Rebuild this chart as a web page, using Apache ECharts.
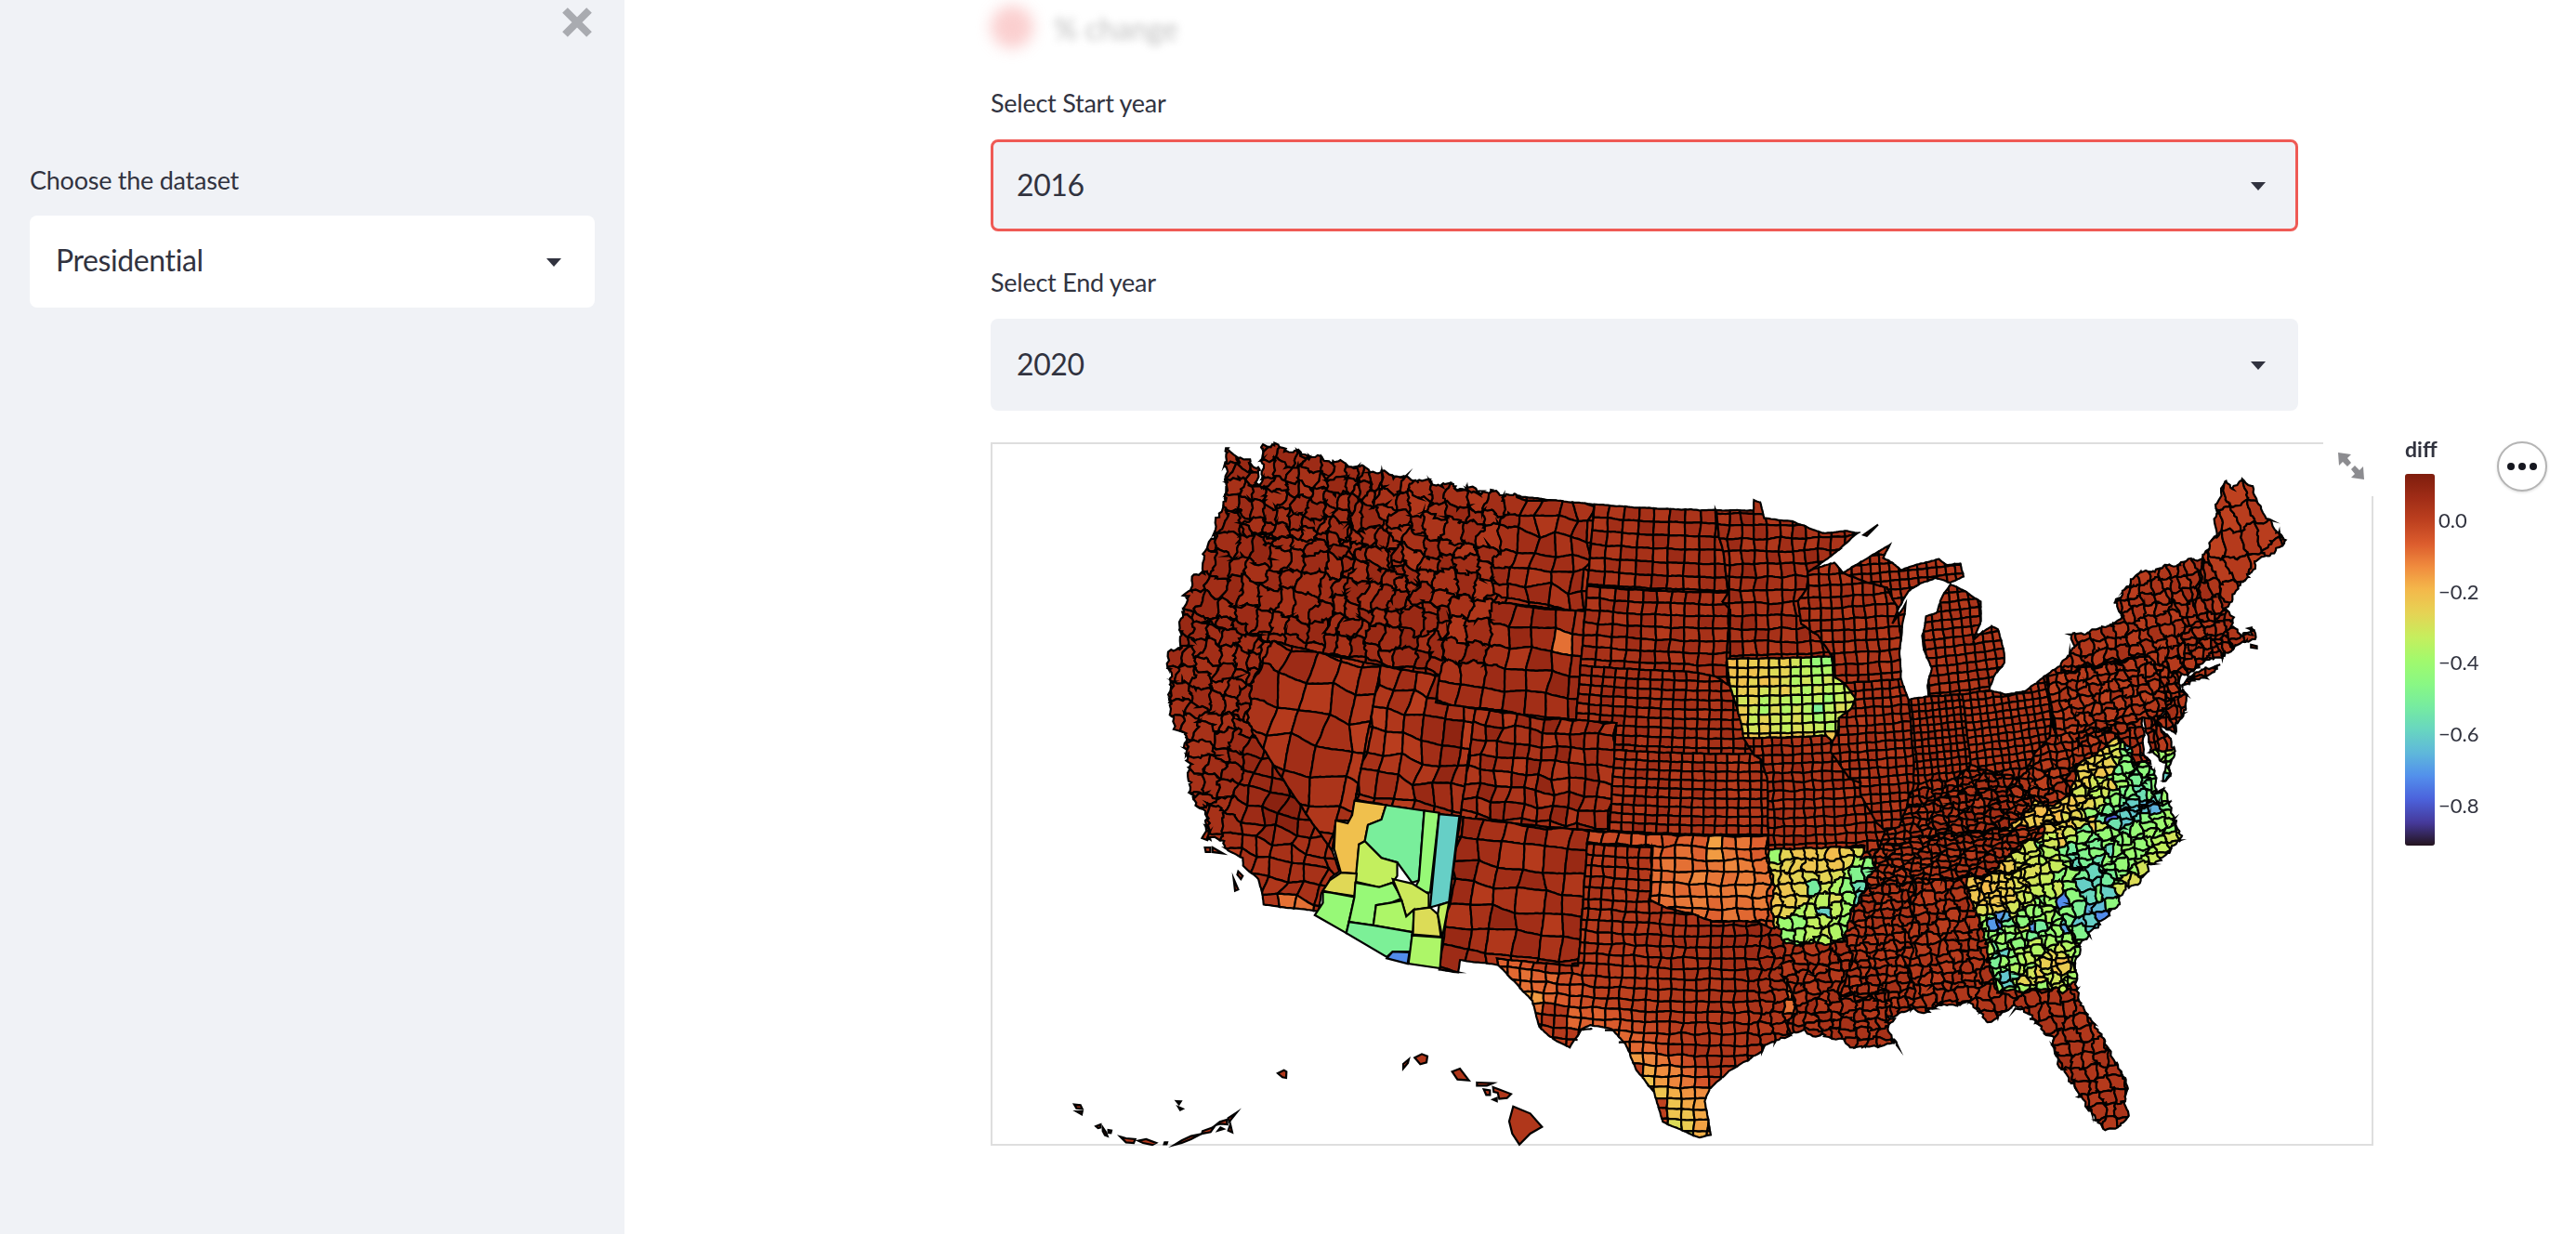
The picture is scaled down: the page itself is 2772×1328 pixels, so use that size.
<!DOCTYPE html>
<html>
<head>
<meta charset="utf-8">
<title>Presidential diff map</title>
<script src="https://cdn.jsdelivr.net/npm/echarts@6/dist/echarts.min.js"></script>
<style>
  html, body { margin: 0; padding: 0; width: 2772px; height: 1328px; overflow: hidden; background: #fff; }
  body { font-family: Lato, "Noto Sans", sans-serif; color: #31333f; }
  .abs { position: absolute; }
  .txt { position: absolute; white-space: nowrap; transform: translateY(-50%); }
  .label { font-size: 27px; letter-spacing: -0.25px; }
  .value { font-size: 32px; letter-spacing: -0.4px; }
  .box { position: absolute; border-radius: 8px; box-sizing: border-box; }
  .caret { position: absolute; width: 0; height: 0; border-left: 8px solid transparent; border-right: 8px solid transparent; border-top: 9px solid #31333f; }
  #chart { position: absolute; left: 0; top: 0; width: 2772px; height: 1328px; }
</style>
</head>
<body>
<div class="abs" style="left:0;top:0;width:672px;height:1328px;background:#f0f2f6"></div>
<svg class="abs" style="left:604px;top:8px" width="34" height="32" viewBox="0 0 34 32">
  <path d="M4 3 L30 29 M30 3 L4 29" stroke="#a9abb0" stroke-width="8" fill="none"/>
</svg>
<div class="txt label" style="left:32px;top:193px">Choose the dataset</div>
<div class="box" style="left:32px;top:232px;width:608px;height:99px;background:#fff"></div>
<div class="txt value" style="left:60px;top:279px">Presidential</div>
<div class="caret" style="left:588px;top:278px"></div>

<div class="abs" style="left:1066px;top:6px;width:46px;height:46px;border-radius:50%;background:#f8b0b0;filter:blur(8px);opacity:.6"></div>
<div class="txt" style="left:1134px;top:30px;font-size:32px;color:#8a8a8a;filter:blur(4px);opacity:.55">% change</div>

<div class="txt label" style="left:1066px;top:110px">Select Start year</div>
<div class="box" style="left:1066px;top:150px;width:1407px;height:99px;background:#f0f2f6;border:3.5px solid #ef5a55"></div>
<div class="txt value" style="left:1094px;top:198px">2016</div>
<div class="caret" style="left:2422px;top:196px"></div>

<div class="txt label" style="left:1066px;top:303px">Select End year</div>
<div class="box" style="left:1066px;top:343px;width:1407px;height:99px;background:#f0f2f6"></div>
<div class="txt value" style="left:1094px;top:391px">2020</div>
<div class="caret" style="left:2422px;top:389px"></div>

<div class="abs" style="left:1066px;top:476px;width:1488px;height:757px;box-sizing:border-box;border:2.5px solid #dedede"></div>
<div class="abs" style="left:2500px;top:470px;width:60px;height:64px;background:#fff"></div>

<div id="chart"></div>

<svg class="abs" style="left:2516px;top:487px" width="28" height="29" viewBox="0 0 28 29">
  <path d="M0 0 L14 2 L10 6 L14 11 L10 15 L5 10 L1 14 Z M28 29 L14 27 L18 23 L14 18 L18 14 L23 19 L27 15 Z" fill="#8c8c90"/>
</svg>
<div class="abs" style="left:2687px;top:475px;width:54px;height:54px;box-sizing:border-box;border-radius:50%;background:#fff;border:2px solid #b4b4b4;box-shadow:0 1px 3px rgba(0,0,0,.15);display:flex;align-items:center;justify-content:center;gap:4px">
  <span style="width:8px;height:8px;border-radius:50%;background:#16171f"></span>
  <span style="width:8px;height:8px;border-radius:50%;background:#16171f"></span>
  <span style="width:8px;height:8px;border-radius:50%;background:#16171f"></span>
</div>

<script>
/* ---- legend ---- */
const DIFF_MIN = -0.91;
const DIFF_MAX = 0.132;
const DIFF_TICKS = [0, -0.2, -0.4, -0.6, -0.8];
// low -> high
const DIFF_COLORS = ['#23141e', '#463a9c', '#4b62dc', '#5390ec', '#5fb8da', '#68d6c0', '#76ec9f', '#8af883',
  '#a2f96c', '#c6ee5d', '#e6d354', '#f4b94b', '#f08c3e', '#dc5c2d', '#bd401f', '#9f2c16', '#7f1d0d'];

/* ---- county values per state, in hundredths, rows north to south, columns west to east ---- */
const WA_DIFF = [[7, 5, 7, 6, 8, 5, 7], [5, 8, 6, 5, 7, 6, 5], [6, 7, 5, 8, 6, 7, 4], [8, 5, 6, 7, 5, 6, 7]];
const OR_DIFF = [[6, 8, 5, 7, 6, 5, 7, 8], [8, 6, 7, 9, 5, 6, 7, 5], [6, 8, 6, 5, 7, 6, 5, 6], [7, 6, 8, 5, 6, 5, 6, 7]];
const CA_DIFF = [
  [8, 7, 6, 7, 6, 5, 6], [9, 7, 6, 5, 6, 6, 7], [7, 6, 5, 7, 5, 6, 5], [6, 5, 6, 5, 6, 7, 7, 6], [5, 6, 7, 6, 5, 7, 8, 6],
  [6, 5, 6, 4, 5, 6, 7, 8, 9], [5, 6, 4, 5, 6, 7, 8, 9, 7], [6, 5, 5, 4, 6, 8, 9, 8, 8], [6, 5, 5, 5, 6, 8, 7, 8, 9, 9],
  [5, 5, 6, 5, 6, 6, 8, 7, 11, 11, 8], [5, 5, 5, 6, 5, 5, 6, 7, 11, 11, 8], [5, 5, 5, 5, 5, 5, 6, 5, 9, 6, 5, 5],
  [5, 5, 5, 6, 5, 4, 5, 5, 4, 5, 5, 5], [5, 5, 5, 5, 5, 5, 1, 5, 4, 5, 5, 5], [5, 5, 5, 5, 5, 5, 5, 5, 5, 3, 5, 5],
  [5, 5, 5, 5, 5, 5, 5, 5, 5, 3, -9, -9], [5, 5, 5, 5, 5, 5, 5, 5, 5, 3, -9, -9]];
const NV_DIFF = [[5, 7, 4, 3, 5], [7, 3, 2, 5, 3], [4, 2, 5, 5, 1], [5, 3, 6, 5, 2], [9, 8, 6, 4, 2]];
const ID_DIFF = [[6, 7, 5, 8, 6, 9, 5, 7], [7, 5, 8, 6, 5, 7, 9, 6], [6, 8, 5, 7, 8, 5, 6, 8], [5, 6, 7, 5, 6, 8, 7, 5]];
const MT_DIFF = [[6, 4, 5, 7, 5, 3, 6, 5, 4, 6], [5, 7, 3, 5, 8, 6, 4, 7, 5, 3], [4, 6, 7, 4, 5, 7, 3, 5, 6, 7]];
const WY_DIFF = [[5, 3, 7, 6, 9, 5, 4], [3, 6, 4, 8, 6, -9, 3], [6, 8, 5, 3, 8, 5, 6], [4, 5, 7, 6, 5, 9, 7], [5, 6, 4, 7, 6, 5, 8]];
const UT_DIFF = [[4, 6, 3, 8, 6], [3, 5, 1, 6, 5], [1, 3, 5, 7, 10], [3, 1, 2, 6, 8], [5, 3, 4, 3, 9]];
const CO_DIFF = [[3, 6, 2, 8, 4, 9, 3, 5, 7], [5, 9, 5, 4, 7, 3, 6, 8, 5], [6, 3, 8, 7, 4, 6, 9, 3, 6], [3, 7, 5, 2, 9, 5, 3, 7, 8]];
const NM_DIFF = [[8, 5, 3, 7, 4, 6], [7, 6, 3, 2, 6, 8], [9, 4, 6, 8, 5, 3], [7, 2, 4, 3, 6, 5], [3, 5, 9, 6, 2, 7]];
const ND_DIFF = [[5, 3, 6, 5, 3, 7, 4, 6, 3], [3, 6, 4, 8, 5, 3, 6, 5, 7], [6, 4, 3, 5, 7, 4, 3, 6, 5]];
const SD_DIFF = [
  [5, 3, 6, 4, 7, 3, 5, 6, 4, 3, 6], [3, 6, 7, 3, 5, 4, 2, 5, 3, 6, 4], [6, 4, 3, 5, 6, 3, 5, 4, 7, 5, 3],
  [4, 5, 6, 7, 4, 2, 6, 3, 5, 3, 6], [5, 3, 4, 6, 3, 8, 4, 6, 3, 5, 4], [6, 5, 3, 4, 7, 5, 3, 5, 6, 4, 3], [3, 4, 6, 5, 3, 6, 5, 3, 4, 6, 5]];
const NE_DIFF = [[6, 4, 7, 3, 5, 6, 4, 3, 6, 5, 4, 3], [3, 6, 4, 5, 7, 3, 5, 6, 3, 4, 2, 5], [5, 3, 6, 7, 4, 5, 3, 4, 6, 3, 5, 4]];
const KS_DIFF = [[3, 5, 2, 4, 6, 3, 4, 2, 5, 3, 1, 3, 2], [5, 2, 4, 6, 3, 5, 2, 6, 3, 4, 2, 1, 3], [2, 4, 7, 3, 5, 2, 4, 3, 5, 2, 3, 2, 4]];
const OK_DIFF = [
  [-3, -2, -3, -5, -6, -4, -7, -6, -16, -8, -10, -7, -6], [-6, -4, -3, -7, -8, -6, -9, -7, -15, -10, -8, -6, -8],
  [-6, -4, -6, -8, -7, -10, -9, -8, -10, -12, -11, -9, -8], [-6, -4, -7, -6, -9, -8, -10, -12, -10, -9, -11, -10, -8],
  [-4, -5, -6, -9, -7, -10, -8, -9, -11, -10, -12, -11, -7], [-4, -5, -7, -6, -8, -9, -10, -11, -8, -10, -9, -11, -6],
  [-4, -5, -6, -4, -7, -5, -8, -9, -7, -10, -8, -7, -4], [-4, -5, -6, -3, -6, -5, -7, -8, -10, -7, -6, -4, -3]];
const TX_DIFF = [
  [3, 3, 3, 3, 3, 3, 2, 3, 1, 2, 3, 2], [3, 3, 3, 3, 3, 3, 3, 1, 2, 4, 2, 3], [3, 3, 3, 3, 3, 3, 2, 2, 3, 1, 4, 2],
  [3, 3, 3, 3, 3, 3, 3, 4, 2, 3, 1, 3, 4, 3, 2, 3, 5, 4, 3, 5],
  [2, 3, 3, 3, 3, 3, 2, 4, 3, 1, 2, 4, 3, 2, 5, 3, 4, 5, 6, 4, 6, 5, 4],
  [3, 3, 3, 3, 3, 3, 4, 2, 3, 2, 4, 1, 3, 4, 3, 6, 4, 5, 3, 6, 7, 8, 5],
  [3, 3, 3, 3, 3, 3, 2, 3, 1, 4, 2, 3, 4, 2, 5, 3, 6, 4, 5, 8, 6, 5, 7],
  [3, 3, 3, 3, 3, 3, 3, 2, 4, 2, 3, 2, 3, 5, 3, 4, 5, 7, 4, 6, 8, 6, 5],
  [3, 3, 3, 3, 3, 3, 0, 2, 1, 3, 2, 4, 5, 3, 6, 5, 4, 5, 6, 7, 5, 7, 6],
  [3, 3, 3, 3, 2, 2, 1, 3, 2, 3, 1, 2, 3, 4, 2, 5, 3, 6, 4, 5, 7, 5, 6],
  [3, 3, 3, 3, 1, 2, 3, 1, 2, 1, 3, 2, 4, 3, 5, 2, 4, 3, 5, 6, 4, 6, 5],
  [-7, -7, -5, 0, 1, 2, 0, 1, 2, 1, 0, 2, 1, 3, 2, 4, 3, 4, 2, 5, 6, 5, 4],
  [-8, -8, -9, -7, -8, -3, -3, 0, 1, 0, 1, 2, 1, 2, 3, 3, 4, 2, 5, 4, 6, 4, 5],
  [-9, -8, -9, -8, -8, -4, -5, -2, 0, 1, 0, 1, 2, 1, 3, 2, 3, 4, 3, 5, 4, 5, 3],
  [-9, -9, -16, -15, -8, -6, -5, -3, -2, -1, 0, 1, 0, 2, 1, 3, 2, 4, 3, 2, 4, 3, 4],
  [0, 0, 0, -9, 2, 2, -8, -6, -7, -5, -2, -1, 0, 1, 2, 1, 3, 2, 4, 2, 3, 4, 3],
  [0, 0, 0, 0, 2, 2, -8, -7, -7, -6, -4, -3, -2, 0, 1, 2, 2, 3, 2, 4, 3, 2, 3],
  [0, 0, 0, 0, 0, 2, 2, -8, -12, -10, -8, -7, -4, -2, 0, 1, 3, 2, 3, 2, 4, 3, 2],
  [0, 0, 0, 0, 0, 0, 0, 0, -12, -12, -10, -8, -8, -3, 2, 3, 4, 2, 3, 1, 3, 2, 2],
  [0, 0, 0, 0, 0, 0, 0, 0, 0, 0, 0, -15, -12, -10, -7, -3, 2, 3, 2, 3, 2, 1, 2],
  [0, 0, 0, 0, 0, 0, 0, 0, 0, 0, 0, 0, -17, -13, -12, -8, -3, 2, 1, 2, 3, 2, 1],
  [0, 0, 0, 0, 0, 0, 0, 0, 0, 0, 0, 0, -22, -15, -12, -10, -5, 1, 2, 1, 2, 2, 2],
  [0, 0, 0, 0, 0, 0, 0, 0, 0, 0, 0, 0, 0, -22, -18, -14, -13, -10, -5, 1, 0, 2, 1],
  [0, 0, 0, 0, 0, 0, 0, 0, 0, 0, 0, 0, 0, 0, -22, -17, -16, -13, -7, 0, 1, 0, 1],
  [0, 0, 0, 0, 0, 0, 0, 0, 0, 0, 0, 0, 0, 0, -22, -22, -17, -12, -10, 0, 0, 0, 0],
  [0, 0, 0, 0, 0, 0, 0, 0, 0, 0, 0, 0, 0, 0, -28, -24, -16, -10, -8, 0, 0, 0, 0],
  [0, 0, 0, 0, 0, 0, 0, 0, 0, 0, 0, 0, 0, 0, 0, -28, -18, -15, -8, 0, 0, 0, 0]];
const MN_DIFF = [[5, 3, 6, 4, 7, 3, 5, 8, 5, 6], [3, 6, 8, 4, 3, 6, 4, 7, 6, 3], [6, 4, 5, 7, 5, 3, 7, 4, 5, 6], [4, 7, 3, 5, 3, 6, 4, 3, 6, 4]];
const IA_DIFF = [
  [-20, -22, -24, -22, -26, -24, -30, -36, -42, -42, -34, -30],
  [-21, -22, -21, -24, -28, -26, -36, -33, -38, -36, -30, -30],
  [-24, -21, -26, -21, -24, -28, -36, -30, -36, -30, -32, -30],
  [-30, -24, -24, -30, -28, -24, -32, -36, -30, -34, -33, -33],
  [-28, -30, -26, -36, -30, -34, -36, -34, -33, -40, -33, -30],
  [-32, -24, -30, -38, -28, -36, -30, -35, -50, -34, -28, -30],
  [-30, -22, -32, -26, -30, -32, -28, -33, -38, -33, -30, -28],
  [-33, -26, -30, -24, -30, -33, -28, -30, -32, -36, -30, -28],
  [-24, -22, -22, -24, -22, -24, -22, -24, -30, -22, -28, -28]];
const MO_DIFF = [[3, 5, 2, 6, 4, 3, 5, 3, 6, 4], [5, 2, 4, 7, 3, 5, 2, 4, 3, 6], [2, 6, 3, 4, 5, 2, 6, 3, 5, 2], [4, 3, 6, 2, 3, 7, 4, 2, 4, 3]];
const AR_DIFF = [
  [-40, -26, -22, -22, -24, -20, -24, -28, -32, -38],
  [-28, -26, -24, -22, -24, -22, -26, -38, -44, -50],
  [-26, -24, -26, -28, -26, -28, -36, -48, -50, -50],
  [-22, -22, -26, -52, -30, -36, -44, -56, -55, -55],
  [-22, -24, -26, -32, -34, -28, -40, -58, -60, -55],
  [-24, -26, -36, -33, -60, -33, -38, -46, -50, -50],
  [-26, -40, -42, -33, -33, -36, -40, -40, -42, -42],
  [-30, -42, -38, -34, -30, -36, -42, -52, -55, -55],
  [-36, -42, -42, -38, -34, -36, -40, -54, -55, -55]];
const LA_DIFF = [[3, 5, 2, 4, 3, 5, 2, 4, 3, 2], [5, 2, 4, 3, 5, 3, 4, 2, 5, 3], [2, 4, 6, 2, 3, 4, 2, 5, 2, 4], [4, 3, 2, 5, 2, 3, 5, 2, 3, 5]];
const MS_DIFF = [[3, 2, 4, 2, 3, 5, 2, 3, 2, 4], [2, 4, 1, 3, 4, 2, 3, 5, 3, 2], [4, 2, 3, 5, 2, 1, 4, 2, 3, 4]];
const AL_DIFF = [[2, 4, 3, 1, 3, 4, 2], [4, 2, 1, 3, 5, 2, 3], [3, 1, 4, 2, 3, 5, 2], [2, 3, 5, 3, 1, 4, 3]];
const TN_DIFF = [[2, 0, 3, 1, 4, 2, 0, 4, 2, 5, 3, 1, 4, 6, 3, 2, 4], [0, 3, 1, 4, 1, 3, 5, 1, 4, 2, 4, 6, 3, 4, 5, 3, 6]];
const KY_DIFF = [[3, 1, 5, 2, 4, 1, 3, 6, 2, 4, 3, 5, 1, 4, 6, 5], [1, 4, 2, 3, 6, 3, 1, 4, 5, 2, 6, 3, 4, 7, 4, 6], [4, 2, 1, 5, 3, 2, 5, 3, 1, 6, 4, 7, 5, 4, 6, 7]];
const IL_DIFF = [[4, 2, 5, 3, 6, 2, 4, 5, 3, 4], [2, 5, 3, 1, 4, 3, 5, 2, 6, 3], [5, 3, 4, 2, 5, 4, 2, 3, 4, 2]];
const WI_DIFF = [[3, 5, 2, 4, 6, 3, 5, 2, 4, 3], [5, 2, 4, 3, 2, 6, 3, 4, 2, 5], [2, 4, 5, 3, 5, 2, 4, 3, 5, 2]];
const MI_DIFF = [[3, 2, 4, 5, 2, 3, 4, 2, 3, 4], [5, 3, 2, 4, 3, 5, 2, 4, 3, 2], [2, 4, 5, 2, 3, 2, 4, 3, 5, 3]];
const IN_DIFF = [[3, 5, 2, 4, 3, 5, 2, 4, 6, 3], [5, 2, 6, 3, 4, 2, 7, 3, 2, 5], [2, 4, 3, 5, 7, 3, 2, 5, 3, 4]];
const OH_DIFF = [[2, 4, 1, 3, 2, 4, 3, 1, 2, 3], [4, 1, 3, 2, 5, 2, 1, 3, 4, 2], [1, 3, 2, 4, 2, 3, 5, 2, 3, 4]];
const WV_DIFF = [[2, 0, 3, 1, 4, 2, 0, 3, 1], [0, 3, 1, 2, 0, 4, 2, 1, 3], [3, 1, 0, 4, 2, 1, 3, 0, 2]];
const PA_DIFF = [[1, 3, 0, 2, 4, 1, 2, 0, 3, 2, 4], [3, 0, 2, 1, 3, 0, 4, 2, 1, 3, 1], [0, 2, 4, 1, 0, 3, 1, 3, 2, 0, 2]];
const NY_DIFF = [[3, 1, 4, 2, 3, 5, 2, 4, 1, 3], [1, 4, 2, 3, 5, 2, 4, 1, 3, 4], [4, 2, 3, 1, 2, 4, 1, 3, 5, 2]];
const NJ_DIFF = [[2, 4, 1], [4, 1, 3], [1, 3, 5]];
const MD_DIFF = [
  [3, 5, 2, 4, 6, 3, 5, 2, 4, 6, 3], [5, 2, 4, 6, 3, 5, 2, 4, 6, 3, 5], [3, 5, 2, 4, 6, 3, 5, 2, 4, 6, 3], [5, 2, 4, 6, 3, 5, 2, 4, 6, 3, 5],
  [3, 5, 2, 4, 6, 3, 5, 2, -36, -40, -32, -34], [5, 2, 4, 6, 3, 5, 2, 4, -40, -35, -42, -38], [5, 2, 4, 6, 3, 5, 2, 4, -40, -42, -36, -44]];
const ME_DIFF = [[1, 2, 0, 2, 1], [2, 0, 1, 3, 2], [0, 2, 3, 1, 3]];
const NEW_ENGLAND_DIFF = [[3, 5, 2, 6, 4], [5, 2, 4, 3, 6], [2, 6, 3, 5, 3]];
const VA_DIFF = [
  [-25, -25, -25, -25, -25, -25, -25, -25, -25, -25, -25, -25, -25, -25, -25, -20, -42, -42, -42, -42, -42],
  [-25, -25, -25, -25, -25, -25, -25, -25, -25, -25, -25, -25, -25, -25, -30, -40, -62, -78, -42, -42, -42],
  [-25, -25, -25, -25, -25, -25, -25, -25, -25, -25, -25, -25, -25, -30, -28, -45, -50, -78, -55, -42, -42],
  [-25, -25, -25, -25, -25, -25, -25, -25, -25, -25, -25, -25, -26, -25, -33, -44, -45, -48, -42, -42, -40],
  [-25, -25, -25, -25, -25, -25, -25, -25, -25, -25, -25, -25, -22, -24, -50, -44, -42, -42, -46, -40, -40],
  [-25, -25, -25, -25, -25, -25, -25, -25, -25, -25, -25, -30, -32, -40, -42, -44, -50, -44, -48, -42, -42],
  [-25, -25, -25, -25, -25, -25, -25, -25, -25, -30, -32, -35, -28, -24, -38, -44, -50, -50, -44, -60, -44],
  [-25, -25, -25, -25, -25, -25, -24, -24, -22, -24, -28, -34, -30, -42, -48, -46, -56, -50, -44, -44, -40],
  [-25, -25, -25, -20, -20, -22, -22, -24, -22, -28, -26, -30, -44, -42, -52, -50, -56, -46, -44, -42, -42],
  [-20, -22, -20, -24, -22, -24, -20, -28, -26, -30, -42, -40, -50, -46, -60, -60, -65, -60, -55, -40, -36],
  [-20, -22, -24, -22, -20, -24, -26, -22, -28, -30, -22, -55, -42, -78, -50, -62, -62, -66, -48, -42, -38]];
const NC_DIFF = [
  [-25, -25, -25, -25, -24, -24, -26, -22, -28, -24, -55, -78, -60, -62, -62, -66, -48, -42],
  [-30, -30, -30, -30, -30, -32, -25, -30, -50, -22, -30, -55, -62, -58, -45, -42, -38, -35],
  [-30, -30, -30, -30, -45, -30, -22, -35, -42, -48, -42, -42, -50, -42, -42, -40, -38, -30],
  [-28, -28, -30, -30, -40, -35, -48, -52, -42, -50, -42, -45, -42, -44, -38, -40, -42, -30],
  [-20, -24, -28, -30, -35, -30, -42, -55, -48, -44, -58, -42, -40, -42, -38, -35, -30, -30],
  [-20, -20, -26, -22, -30, -32, -42, -58, -50, -55, -42, -44, -40, -42, -36, -33, -30, -30],
  [-20, -20, -20, -22, -28, -28, -45, -55, -62, -50, -45, -42, -42, -36, -32, -30, -30, -30],
  [-20, -20, -20, -22, -20, -30, -40, -46, -60, -62, -50, -44, -40, -30, -28, -30, -30, -30],
  [-20, -20, -20, -22, -30, -40, -44, -55, -66, -65, -42, -28, -28, -30, -30, -30, -30, -30]];
const SC_DIFF = [
  [-26, -28, -30, -32, -38, -40, -42, -44, -40],
  [-26, -30, -32, -44, -40, -50, -58, -44, -42],
  [-30, -32, -34, -30, -42, -60, -58, -52, -42],
  [-34, -44, -38, -72, -44, -58, -45, -60, -30],
  [-38, -44, -45, -44, -50, -66, -64, -44, -42],
  [-44, -44, -45, -48, -62, -60, -72, -50, -42],
  [-44, -44, -46, -42, -48, -62, -46, -44, -42],
  [-44, -42, -46, -40, -42, -44, -40, -44, -42]];
const GA_DIFF = [
  [-22, -20, -20, -24, -24, -26, -28, -30, -30, -30, -30, -30, -30, -30],
  [-22, -22, -20, -22, -24, -26, -28, -30, -30, -30, -30, -30, -30, -30],
  [-22, -20, -22, -22, -24, -24, -30, -26, -32, -32, -32, -32, -32, -32],
  [-26, -22, -24, -22, -22, -24, -30, -32, -28, -30, -30, -30, -30, -30],
  [-30, -28, -26, -24, -24, -30, -30, -32, -42, -40, -40, -40, -40, -40],
  [-30, -36, -45, -70, -66, -30, -42, -40, -42, -36, -36, -36, -36, -36],
  [-32, -40, -70, -78, -50, -32, -44, -38, -40, -36, -42, -42, -42, -42],
  [-32, -42, -42, -50, -40, -36, -30, -70, -52, -46, -42, -60, -60, -60],
  [-30, -34, -40, -38, -44, -40, -42, -50, -44, -42, -40, -68, -44, -44],
  [-28, -36, -52, -42, -36, -44, -40, -32, -40, -38, -42, -40, -46, -46],
  [-32, -32, -54, -60, -44, -36, -34, -36, -42, -34, -30, -36, -22, -42],
  [-42, -42, -50, -40, -42, -36, -32, -32, -28, -26, -28, -36, -40, -42],
  [-38, -38, -44, -44, -36, -33, -40, -30, -24, -22, -20, -26, -38, -44],
  [-40, -40, -50, -62, -55, -30, -30, -24, -30, -22, -24, -30, -38, -44],
  [-38, -38, -40, -60, -34, -26, -28, -26, -32, -30, -32, -38, -38, -38],
  [-42, -42, -42, -42, -42, -38, -34, -40, -30, -30, -36, -36, -36, -36],
  [-42, -42, -42, -42, -40, -40, -40, -24, -26, -33, -36, -36, -36, -36]];
const FL_DIFF = [[2, 4, 3, 1, 3, 2, 4, 3, 2, 4, 5, 3], [3, 1, 4, 2, 3, 5, 2, 4, 3, 2, 3, 4], [4, 2, 3, 1, 4, 3, 2, 3, 4, 3, 2, 3]];

// Arizona is drawn county by county
const AZ_COUNTIES = ['Mohave', 'Coconino', 'Navajo', 'Apache', 'Yavapai', 'La Paz', 'Yuma', 'Maricopa', 'Gila', 'Pinal', 'Graham', 'Greenlee', 'Pima', 'Santa Cruz', 'Cochise'];
const AZ_DIFF = [-21, -51, -42, -60, -33, -27, -42, -42, -31, -37, -28, -33, -50, -72, -37];
const INSET_DIFF = 3;

/* ---- state outlines, lon/lat ---- */
const RINGS = {
  WA: [[[-124.73,48.38],[-123.9,48.17],[-123.1,48.15],[-122.75,48.1],[-122.6,47.6],[-122.45,47.4],[-122.3,47.6],[-122.4,48.2],[-122.55,48.5],[-122.76,49],[-117.03,49],[-117.04,46.42],[-116.92,45.99],[-118.98,46],[-119.3,45.93],[-121.2,45.67],[-122.3,45.55],[-122.8,45.9],[-123.2,46.15],[-124,46.27],[-124.1,46.9],[-124.4,47.6]]],
  OR: [[[-124,46.27],[-123.2,46.15],[-122.8,45.9],[-122.3,45.55],[-121.2,45.67],[-119.3,45.93],[-118.98,46],[-116.92,45.99],[-116.47,45.6],[-116.85,44.95],[-117.22,44.4],[-117.03,43.83],[-117.03,42],[-124.21,42],[-124.4,42.8],[-124.55,42.84],[-124.15,43.7],[-124.05,45],[-123.95,45.9]]],
  CA: [[[-124.21,42],[-120,42],[-120,39],[-114.63,35],[-114.14,34.3],[-114.45,34],[-114.72,33.4],[-114.72,32.72],[-117.12,32.53],[-117.25,32.85],[-117.6,33.4],[-118.4,33.75],[-118.5,34.03],[-119.2,34.15],[-119.6,34.42],[-120.5,34.45],[-120.65,35.15],[-121.3,35.7],[-121.9,36.3],[-121.95,36.6],[-121.8,36.85],[-122.05,36.95],[-122.5,37.5],[-122.5,37.8],[-123,38],[-123.7,38.9],[-123.85,39.8],[-124.35,40.3],[-124.4,40.45],[-124.1,41],[-124.2,41.75]]],
  NV: [[[-120,42],[-114.04,42],[-114.04,36.2],[-114.74,36.1],[-114.63,35],[-120,39]]],
  ID: [[[-117.03,49],[-116.05,49],[-116.05,48],[-115.7,47.45],[-115,47],[-114.6,46.65],[-114.35,46.65],[-114.5,45.55],[-113.95,45.7],[-113.45,44.95],[-113,44.45],[-112.3,44.55],[-111.5,44.55],[-111.05,44.48],[-111.05,42],[-117.03,42],[-117.03,43.83],[-117.22,44.4],[-116.85,44.95],[-116.47,45.6],[-116.92,45.99],[-117.04,46.42]]],
  MT: [[[-116.05,49],[-104.05,49],[-104.05,45],[-111.05,45],[-111.05,44.48],[-111.5,44.55],[-112.3,44.55],[-113,44.45],[-113.45,44.95],[-113.95,45.7],[-114.5,45.55],[-114.35,46.65],[-114.6,46.65],[-115,47],[-115.7,47.45],[-116.05,48]]],
  WY: [[[-111.05,45],[-104.05,45],[-104.05,41],[-111.05,41]]],
  UT: [[[-114.04,42],[-111.05,42],[-111.05,41],[-109.05,41],[-109.05,37],[-114.04,37]]],
  CO: [[[-109.05,41],[-102.05,41],[-102.05,37],[-109.05,37]]],
  NM: [[[-109.05,37],[-103,37],[-103.04,36.5],[-103.04,32],[-106.62,32],[-106.53,31.78],[-108.21,31.78],[-108.21,31.33],[-109.05,31.33]]],
  ND: [[[-104.05,49],[-97.23,49],[-97.1,48],[-96.85,47.5],[-96.55,45.94],[-104.05,45.94]]],
  SD: [[[-104.05,45.94],[-96.55,45.94],[-96.85,45.6],[-96.45,45.3],[-96.45,43.5],[-96.6,43.5],[-96.45,42.5],[-97.2,42.85],[-98.5,43],[-104.05,43]]],
  NE: [[[-104.05,43],[-98.5,43],[-97.2,42.85],[-96.45,42.5],[-96.1,41.7],[-95.85,41],[-95.31,40],[-102.05,40],[-102.05,41],[-104.05,41]]],
  KS: [[[-102.05,40],[-95.31,40],[-94.9,39.8],[-94.61,39.1],[-94.62,37],[-102.05,37]]],
  OK: [[[-103,37],[-94.62,37],[-94.43,35.4],[-94.48,33.64],[-95.5,33.88],[-96.6,33.85],[-97.2,33.85],[-98,34.1],[-99.2,34.3],[-100,34.56],[-100,36.5],[-103.04,36.5]]],
  TX: [[[-103.04,36.5],[-100,36.5],[-100,34.56],[-99.2,34.3],[-98,34.1],[-97.2,33.85],[-96.6,33.85],[-95.5,33.88],[-94.48,33.64],[-94.04,33.55],[-94.04,33],[-94.04,31.99],[-93.55,31.2],[-93.7,30.5],[-93.85,29.7],[-94.7,29.4],[-95.2,29],[-96.4,28.35],[-97.2,27.7],[-97.4,27.2],[-97.15,25.96],[-97.6,25.85],[-98.4,26.15],[-99.1,26.4],[-99.5,27.5],[-100.3,28.3],[-100.8,29.25],[-101.4,29.77],[-102.35,29.87],[-102.7,29.7],[-103.15,28.98],[-104,29.3],[-104.5,29.65],[-104.9,30.6],[-106,31.4],[-106.53,31.78],[-106.62,32],[-103.04,32]]],
  MN: [[[-97.23,49],[-95.15,49],[-95.15,49.38],[-94.8,49.3],[-94.6,48.7],[-93,48.55],[-91.4,48.07],[-90,48.1],[-89.5,48],[-90.8,47.3],[-92.05,46.75],[-92.3,46.65],[-92.3,46.1],[-92.85,45.6],[-92.75,44.75],[-91.9,44.3],[-91.2,43.5],[-96.45,43.5],[-96.45,45.3],[-96.85,45.6],[-96.55,45.94],[-96.85,47.5],[-97.1,48]]],
  IA: [[[-96.6,43.5],[-91.2,43.5],[-91.1,42.7],[-90.65,42.5],[-90.15,41.9],[-90.35,41.55],[-91.05,41.2],[-91.1,40.7],[-91.42,40.38],[-91.7,40.6],[-95.77,40.58],[-95.85,41],[-96.1,41.7],[-96.45,42.5]]],
  MO: [[[-95.77,40.58],[-91.7,40.6],[-91.42,40.38],[-91.5,40],[-90.7,39],[-90.15,38.8],[-90.2,38.4],[-89.5,37.3],[-89.15,37],[-89.4,36.5],[-89.7,36],[-90.37,36],[-90.15,36.5],[-94.62,36.5],[-94.62,37],[-94.61,39.1],[-94.9,39.8],[-95.31,40]]],
  AR: [[[-94.62,36.5],[-90.15,36.5],[-90.37,36],[-89.7,36],[-90.1,35],[-90.6,34.6],[-91.1,33.9],[-91.2,33],[-94.04,33],[-94.04,33.55],[-94.48,33.64],[-94.43,35.4]]],
  LA: [[[-94.04,33],[-91.2,33],[-91,32.4],[-91.6,31],[-89.75,31],[-89.6,30.2],[-89.4,30.05],[-89.6,29.6],[-89.15,29.05],[-89.45,29.2],[-90.1,29.15],[-90.9,29.05],[-91.8,29.5],[-92.3,29.55],[-93.2,29.75],[-93.85,29.7],[-93.7,30.5],[-93.55,31.2],[-94.04,31.99]]],
  MS: [[[-90.1,35],[-88.2,35],[-88.1,34.9],[-88.47,31.9],[-88.4,30.35],[-89.6,30.2],[-89.75,31],[-91.6,31],[-91,32.4],[-91.2,33],[-91.1,33.9],[-90.6,34.6]]],
  AL: [[[-88.2,35],[-85.6,35],[-85.18,32.87],[-85,32.3],[-85,31],[-87.6,31],[-87.45,30.4],[-88,30.25],[-88.4,30.35],[-88.47,31.9],[-88.1,34.9]]],
  TN: [[[-89.4,36.5],[-88.05,36.5],[-88.07,36.68],[-83.68,36.6],[-81.68,36.59],[-82,36.1],[-82.6,36.03],[-83.1,35.75],[-84,35.4],[-84.3,35],[-85.6,35],[-88.2,35],[-90.1,35],[-89.7,36]]],
  KY: [[[-89.4,36.5],[-88.05,36.5],[-88.07,36.68],[-83.68,36.6],[-83.1,36.85],[-82.3,37.3],[-81.97,37.54],[-82.6,38.15],[-82.6,38.4],[-83.6,38.65],[-84.8,39.1],[-85.4,38.73],[-85.8,38.27],[-86.5,37.95],[-87.5,37.9],[-88.05,37.8],[-88.5,37.1],[-89.15,37]]],
  IL: [[[-90.65,42.5],[-87.8,42.5],[-87.5,41.7],[-87.53,39.35],[-87.6,38.7],[-88.05,37.8],[-88.5,37.1],[-89.15,37],[-89.5,37.3],[-90.2,38.4],[-90.15,38.8],[-90.7,39],[-91.5,40],[-91.42,40.38],[-91.1,40.7],[-91.05,41.2],[-90.35,41.55],[-90.15,41.9]]],
  WI: [[[-92.05,46.75],[-90.8,46.95],[-90.4,46.55],[-89.1,46.13],[-88.1,45.9],[-87.8,45.35],[-87.6,45.1],[-88,44.55],[-87.2,45.25],[-87.5,44.4],[-87.75,43.5],[-87.8,42.5],[-90.65,42.5],[-91.1,42.7],[-91.2,43.5],[-91.9,44.3],[-92.75,44.75],[-92.85,45.6],[-92.3,46.1],[-92.3,46.65]]],
  MI: [
    [[-90.4,46.55],[-89.1,46.13],[-88.1,45.9],[-87.8,45.35],[-87.6,45.1],[-87,45.7],[-86.3,45.95],[-85.5,46.08],[-84.75,45.85],[-84,46],[-84.1,46.5],[-84.8,46.5],[-85.2,46.75],[-86.2,46.67],[-87.3,46.5],[-87.9,46.9],[-88.2,47],[-87.8,47.45],[-88.6,47.2],[-89.6,46.85]],
    [[-86.5,41.76],[-84.8,41.7],[-83.45,41.73],[-83.15,42.2],[-82.5,42.65],[-82.45,43],[-82.6,43.9],[-82.9,44.05],[-83.4,43.9],[-83.9,43.65],[-83.4,44.3],[-83.3,45],[-84.1,45.5],[-84.75,45.78],[-85.1,45.5],[-85.4,45.2],[-85.6,44.8],[-86.2,44.7],[-86.5,44],[-86.5,43.5],[-86.2,42.8],[-86.5,42.1]]],
  IN: [[[-87.5,41.7],[-87.2,41.75],[-86.5,41.76],[-84.8,41.7],[-84.8,39.1],[-85.4,38.73],[-85.8,38.27],[-86.5,37.95],[-87.5,37.9],[-88.05,37.8],[-87.6,38.7],[-87.53,39.35]]],
  OH: [[[-84.8,41.7],[-83.45,41.73],[-82.7,41.5],[-81.7,41.5],[-80.52,41.98],[-80.52,40.64],[-80.85,39.7],[-81.7,39.2],[-82.2,38.6],[-82.6,38.4],[-83.6,38.65],[-84.8,39.1]]],
  WV: [[[-80.52,40.64],[-80.52,39.72],[-79.48,39.72],[-79.48,39.2],[-78.75,39.6],[-78.2,39.68],[-77.72,39.32],[-78.35,39],[-78.87,38.76],[-79.65,38.55],[-80.3,37.55],[-81.2,37.25],[-81.68,37.2],[-81.97,37.54],[-82.6,38.15],[-82.6,38.4],[-82.2,38.6],[-81.7,39.2],[-80.85,39.7]]],
  VA: [
    [[-83.68,36.6],[-81.68,36.59],[-80.3,36.55],[-75.9,36.55],[-76,37],[-76.3,37],[-76.3,37.95],[-77,38.3],[-77.05,38.8],[-77.5,39.1],[-77.72,39.32],[-78.35,39],[-78.87,38.76],[-79.65,38.55],[-80.3,37.55],[-81.2,37.25],[-81.68,37.2],[-81.97,37.54],[-82.3,37.3],[-83.1,36.85]],
    [[-75.95,37.15],[-75.65,37.95],[-75.25,38.03],[-75.6,37.5]]],
  NC: [[[-84.3,35],[-84,35.4],[-83.1,35.75],[-82.6,36.03],[-82,36.1],[-81.68,36.59],[-80.3,36.55],[-75.9,36.55],[-75.55,35.25],[-76.5,34.65],[-77.3,34.5],[-77.95,33.87],[-78.55,33.85],[-79.67,34.8],[-80.8,34.82],[-80.8,35.1],[-81.05,35.15],[-82.3,35.2],[-83.1,35]]],
  SC: [[[-83.1,35],[-82.3,35.2],[-81.05,35.15],[-80.8,35.1],[-80.8,34.82],[-79.67,34.8],[-78.55,33.85],[-79.1,33.2],[-79.9,32.7],[-80.6,32.3],[-80.87,32.03],[-81.15,32.2],[-81.5,33],[-82,33.5],[-82.6,34],[-83.35,34.7]]],
  GA: [[[-85.6,35],[-84.3,35],[-83.1,35],[-83.35,34.7],[-82.6,34],[-82,33.5],[-81.5,33],[-81.15,32.2],[-80.87,32.03],[-81.25,31.5],[-81.45,30.72],[-82.05,30.36],[-82.2,30.57],[-84.86,30.7],[-85,31],[-85,32.3],[-85.18,32.87]]],
  FL: [[[-87.6,31],[-85,31],[-84.86,30.7],[-82.2,30.57],[-82.05,30.36],[-81.45,30.72],[-81.25,29.8],[-80.55,28.45],[-80.05,26.9],[-80.12,25.8],[-80.4,25.2],[-81.1,25.12],[-81.75,25.95],[-82.2,26.9],[-82.75,27.8],[-82.65,28.7],[-83.2,29.2],[-83.9,30.05],[-84.35,30.05],[-85.2,29.7],[-85.35,29.7],[-86.2,30.45],[-87.45,30.4]]],
  PA: [[[-80.52,41.98],[-79.76,42.27],[-79.76,42],[-75.35,42],[-74.7,41.36],[-75.13,40.97],[-75.2,40.65],[-74.72,40.15],[-75.4,39.8],[-75.79,39.72],[-79.48,39.72],[-80.52,39.72],[-80.52,40.64]]],
  NY: [
    [[-79.76,42.27],[-78.9,42.85],[-79.05,43.27],[-77.5,43.27],[-76.2,43.55],[-76.3,44.15],[-75,44.98],[-73.35,45.01],[-73.4,43.6],[-73.25,42.75],[-73.5,42.05],[-73.65,41],[-73.9,41],[-74.7,41.36],[-75.35,42],[-79.76,42]],
    [[-74,40.6],[-72.75,40.75],[-71.9,41.08],[-72.6,41],[-73.75,40.85]]],
  NJ: [[[-74.7,41.36],[-73.9,41],[-74.2,40.5],[-74,40.4],[-74.1,39.75],[-74.9,38.95],[-75.5,39.5],[-74.72,40.15],[-75.2,40.65],[-75.13,40.97]]],
  MD: [
    [[-79.48,39.72],[-76.2,39.72],[-76.4,39.2],[-76.5,38.4],[-76.3,38.05],[-77,38.3],[-77.05,38.8],[-77.5,39.1],[-77.72,39.32],[-78.2,39.68],[-78.75,39.6],[-79.48,39.2]],
    [[-76.1,39.72],[-75.79,39.72],[-75.7,38.46],[-75.05,38.45],[-75.25,38.03],[-75.65,37.95],[-76.2,38.5],[-76.2,39.3]]],
  DE: [[[-75.79,39.72],[-75.4,39.8],[-75.55,39.45],[-75.1,38.8],[-75.05,38.45],[-75.7,38.46]]],
  CT: [[[-73.65,41],[-73.5,42.05],[-71.8,42.02],[-71.85,41.32],[-72.9,41.25]]],
  RI: [[[-71.8,42.02],[-71.38,42.02],[-71.15,41.5],[-71.85,41.32]]],
  MA: [[[-73.5,42.05],[-73.25,42.75],[-71.3,42.7],[-70.85,42.87],[-70.65,42.65],[-71,42.3],[-70.6,41.95],[-70.55,41.8],[-70.05,41.78],[-70.2,42.07],[-69.95,41.9],[-70,41.65],[-70.65,41.55],[-71.15,41.5],[-71.38,42.02],[-71.8,42.02]]],
  VT: [[[-73.35,45.01],[-71.5,45.01],[-71.6,44.5],[-72.05,44.1],[-72.45,43.1],[-72.46,42.73],[-73.25,42.75],[-73.4,43.6]]],
  NH: [[[-71.5,45.01],[-71.08,45.3],[-70.98,43.4],[-70.7,43.07],[-70.85,42.87],[-71.3,42.7],[-72.46,42.73],[-72.45,43.1],[-72.05,44.1],[-71.6,44.5]]],
  ME: [[[-71.08,45.3],[-70.4,45.8],[-70.25,46.2],[-70,46.7],[-69.23,47.46],[-68.9,47.18],[-68.3,47.36],[-67.8,47.07],[-67.78,45.9],[-67.45,45.6],[-67.45,45.15],[-66.97,44.82],[-68,44.4],[-68.8,44.4],[-69.1,44],[-70.2,43.6],[-70.7,43.07],[-70.98,43.4]]]
};

// state, county cell size in degrees (lon, lat), irregularity of the county lines, values
const STATE_TABLE = [
  ['WA', 0.75, 0.55, 0.5, WA_DIFF], ['OR', 0.95, 0.8, 0.5, OR_DIFF], ['CA', 0.8, 0.6, 0.55, CA_DIFF], ['NV', 1.3, 1.1, 0.45, NV_DIFF],
  ['ID', 0.8, 0.7, 0.6, ID_DIFF], ['MT', 1, 0.65, 0.55, MT_DIFF], ['WY', 1.1, 0.8, 0.25, WY_DIFF], ['UT', 0.9, 0.8, 0.4, UT_DIFF],
  ['CO', 0.7, 0.55, 0.4, CO_DIFF], ['NM', 1.05, 0.8, 0.35, NM_DIFF], ['ND', 0.85, 0.5, 0.1, ND_DIFF], ['SD', 0.75, 0.45, 0.15, SD_DIFF],
  ['NE', 0.6, 0.35, 0.06, NE_DIFF], ['KS', 0.55, 0.33, 0.04, KS_DIFF], ['OK', 0.7, 0.45, 0.3, OK_DIFF], ['TX', 0.55, 0.4, 0.22, TX_DIFF],
  ['MN', 0.7, 0.48, 0.25, MN_DIFF], ['IA', 0.54, 0.345, 0.03, IA_DIFF], ['MO', 0.48, 0.33, 0.22, MO_DIFF], ['AR', 0.55, 0.42, 0.45, AR_DIFF],
  ['LA', 0.5, 0.36, 0.5, LA_DIFF], ['MS', 0.42, 0.3, 0.2, MS_DIFF], ['AL', 0.45, 0.38, 0.35, AL_DIFF], ['TN', 0.42, 0.2, 0.45, TN_DIFF],
  ['KY', 0.38, 0.22, 0.6, KY_DIFF], ['IL', 0.45, 0.32, 0.15, IL_DIFF], ['WI', 0.58, 0.42, 0.15, WI_DIFF], ['MI', 0.5, 0.33, 0.08, MI_DIFF],
  ['IN', 0.34, 0.26, 0.08, IN_DIFF], ['OH', 0.38, 0.27, 0.12, OH_DIFF], ['WV', 0.4, 0.3, 0.6, WV_DIFF], ['PA', 0.5, 0.33, 0.4, PA_DIFF],
  ['NY', 0.6, 0.42, 0.4, NY_DIFF], ['NJ', 0.3, 0.3, 0.4, NJ_DIFF], ['MD', 0.4, 0.3, 0.4, MD_DIFF], ['DE', 0.35, 0.45, 0.1, NJ_DIFF],
  ['CT', 0.5, 0.3, 0.2, NEW_ENGLAND_DIFF], ['RI', 0.3, 0.3, 0.2, NEW_ENGLAND_DIFF], ['MA', 0.6, 0.35, 0.3, NEW_ENGLAND_DIFF],
  ['VT', 0.5, 0.5, 0.3, NEW_ENGLAND_DIFF], ['NH', 0.5, 0.6, 0.3, NEW_ENGLAND_DIFF], ['ME', 0.95, 0.9, 0.4, ME_DIFF],
  ['VA', 0.4, 0.27, 0.55, VA_DIFF], ['NC', 0.5, 0.3, 0.55, NC_DIFF], ['SC', 0.55, 0.42, 0.55, SC_DIFF], ['GA', 0.36, 0.28, 0.5, GA_DIFF], ['FL', 0.5, 0.5, 0.3, FL_DIFF]
];

/* ---- traced shapes: Arizona, Hawaii, Alaska and small islands (crop pixels) ---- */
const AZ_SHAPES = [
  [[820,808],[890,818],[880,850],[850,862],[843,898],[830,905],[825,970],[790,968],[775,915],[778,852],[805,858],[815,840]],
  [[890,818],[975,830],[963,985],[948,990],[915,945],[880,935],[843,898],[850,862],[880,850]],
  [[975,830],[1008,835],[988,1012],[950,1010],[963,985]],
  [[1008,838],[1053,842],[1030,1033],[988,1045]],
  [[830,905],[843,898],[880,935],[915,945],[915,975],[905,990],[875,1000],[822,988]],
  [[790,968],[825,970],[820,1020],[768,1012],[750,1008],[765,985]],
  [[750,1010],[768,1012],[820,1022],[802,1102],[732,1062],[750,1035]],
  [[822,990],[875,1000],[905,990],[925,1025],[900,1035],[868,1040],[862,1085],[808,1077],[820,1022]],
  [[905,982],[948,992],[985,1015],[985,1045],[952,1050],[935,1065],[925,1030]],
  [[868,1040],[900,1035],[925,1030],[935,1065],[952,1050],[950,1100],[862,1085]],
  [[952,1050],[988,1045],[1005,1060],[1012,1110],[950,1105]],
  [[1005,1060],[1008,1040],[1030,1033],[1015,1112]],
  [[808,1077],[862,1085],[948,1100],[945,1143],[905,1143],[892,1155],[802,1102]],
  [[905,1143],[942,1145],[938,1170],[892,1158]],
  [[948,1107],[1015,1112],[1010,1180],[940,1170]]
];
const HAWAII_SHAPES = [
  [[415,212],[470,235],[508,278],[470,300],[435,335],[412,300],[402,260]],
  [[350,150],[372,158],[408,172],[395,185],[370,188],[365,168],[352,165]],
  [[298,135],[350,137],[330,145],[298,145]], [[320,157],[340,160],[340,175],[328,175]],
  [[350,190],[362,185],[362,195]], [[218,100],[243,90],[272,128],[235,125]],
  [[97,55],[120,43],[138,50],[135,70],[115,76]], [[60,75],[78,60],[75,72],[60,90]]
];
const ALEUTIAN_SHAPES = [
  [[572,232],[545,250],[548,262]], [[540,255],[518,262],[505,272],[520,268],[542,270]],
  [[552,270],[558,296],[545,290]], [[530,285],[512,290],[520,280]],
  [[500,278],[462,292],[460,300],[488,295]], [[455,302],[425,318],[395,330],[372,336],[395,322],[425,308]],
  [[340,328],[348,328],[346,334],[338,334]], [[255,323],[280,318],[312,330],[300,336],[270,330]],
  [[197,310],[215,315],[245,318],[240,330],[215,328]], [[118,276],[133,270],[133,280],[125,282]],
  [[140,280],[150,295],[155,308],[147,305],[140,292]], [[158,288],[168,290],[166,298],[158,297]],
  [[378,195],[392,196],[386,205]], [[384,214],[398,220],[390,224]],
  [[48,206],[68,208],[74,220],[55,218]], [[55,228],[74,228],[72,238]],
  [[705,105],[725,95],[733,100],[732,120],[720,118]]
];
const WEST_ISLAND_SHAPES = [
  [[488,912],[500,912],[500,922],[490,922]], [[505,912],[528,925],[505,922]],
  [[562,965],[572,975],[568,982],[560,972]], [[552,982],[562,1005],[555,1008]]
];
const EAST_ISLAND_SHAPES = [
  [[465,218],[497,195],[472,220]], [[1325,462],[1338,465],[1338,470],[1325,468]]
];

/* ---- Albers conic for the lower 48, fitted on the reference ---- */
const RAD = Math.PI / 180;
const ALB_N = (Math.sin(29.5 * RAD) + Math.sin(45.5 * RAD)) / 2;
const ALB_C = Math.pow(Math.cos(29.5 * RAD), 2) + 2 * ALB_N * Math.sin(29.5 * RAD);
const ALB_K = 1667, ALB_X0 = 1871, ALB_Y0 = -1287.7;

function albers(p) {
  const rho = Math.sqrt(ALB_C - 2 * ALB_N * Math.sin(p[1] * RAD)) / ALB_N;
  const theta = ALB_N * (p[0] + 96) * RAD;
  return [ALB_X0 + ALB_K * rho * Math.sin(theta), ALB_Y0 + ALB_K * rho * Math.cos(theta)];
}

// Jitter of county corners only, never touches the values
function jitter(c, r, salt) {
  const v = Math.sin(c * 127.1 + r * 311.7 + salt) * 43758.5453;
  return v - Math.floor(v) - 0.5;
}

const ramp = v => Math.max(0, Math.min(1, v));

// County lines wander in the hills and along rivers, the plains keep their straight lines.
// A smooth field of position only, so neighbouring cells still share their edges.
function wander(p) {
  const lon = p[0], lat = p[1];
  const northwest = ramp((lat - 42) / 0.5) * ramp((-108 - lon) / 1);
  const pacific = ramp((-119 - lon) / 1);
  const south = ramp((36.6 - lat) / 0.5) * ramp((lon + 96) / 2);
  const hills = ramp((39 - lat) / 0.5) * ramp((lon + 88) / 1);
  const northeast = ramp((lon + 80.5) / 1) * ramp((lat - 38.5) / 1);
  const amp = 0.012 + 0.1 * Math.max(northwest, pacific) + 0.07 * Math.max(south, hills, northeast);
  return [
    lon + amp * (Math.sin(lon * 9.1 + lat * 4.3) + 0.5 * Math.sin(lon * 23.7 - lat * 17.3 + 1.3)),
    lat + amp * 0.7 * (Math.sin(lat * 8.7 - lon * 5.1 + 2.1) + 0.5 * Math.sin(lat * 21.3 + lon * 19.1 + 0.7))
  ];
}

// Extra points on long edges so that the wander shows
function subdivide(ring) {
  const out = [];
  ring.forEach((p, i) => {
    const q = ring[(i + 1) % ring.length];
    const steps = Math.max(1, Math.ceil(Math.hypot(q[0] - p[0], q[1] - p[1]) / 0.1));
    for (let s = 0; s < steps; s++) {
      out.push([p[0] + (q[0] - p[0]) * s / steps, p[1] + (q[1] - p[1]) * s / steps]);
    }
  });
  return out;
}

// Sutherland-Hodgman, subject ring against a convex quad
function clipRing(ring, quad) {
  let out = ring;
  for (let i = 0; i < 4 && out.length; i++) {
    const a = quad[i], b = quad[(i + 1) % 4];
    const side = p => (b[0] - a[0]) * (p[1] - a[1]) - (b[1] - a[1]) * (p[0] - a[0]);
    const input = out;
    out = [];
    for (let j = 0; j < input.length; j++) {
      const cur = input[j], prev = input[(j + input.length - 1) % input.length];
      const sc = side(cur), sp = side(prev);
      if ((sc <= 0) !== (sp <= 0)) {
        const t = sp / (sp - sc);
        out.push([prev[0] + (cur[0] - prev[0]) * t, prev[1] + (cur[1] - prev[1]) * t]);
      }
      if (sc <= 0) out.push(cur);
    }
  }
  return out;
}

function area(ring) {
  let s = 0;
  ring.forEach((p, i) => {
    const q = ring[(i + 1) % ring.length];
    s += p[0] * q[1] - q[0] * p[1];
  });
  return Math.abs(s / 2);
}

const features = [];
const cellData = [];

function addCell(name, ring, hundredths) {
  const closed = ring.concat([ring[0]]);
  features.push({ type: 'Feature', properties: { name }, geometry: { type: 'Polygon', coordinates: [closed] } });
  cellData.push({ name, value: hundredths / 100 });
}

function addState(id, dLon, dLat, warp, rows) {
  const lons = RINGS[id].flat().map(p => p[0]), lats = RINGS[id].flat().map(p => p[1]);
  const west = Math.min(...lons), north = Math.max(...lats);
  const cols = Math.ceil((Math.max(...lons) - west) / dLon) + 1;
  const nRows = Math.ceil((north - Math.min(...lats)) / dLat) + 1;
  const corner = (c, r) => [
    west - dLon * 0.02 + c * dLon + jitter(c, r, id.charCodeAt(0)) * warp * dLon,
    north + dLat * 0.02 - r * dLat + jitter(c, r, id.charCodeAt(1) + 9) * warp * dLat
  ];
  RINGS[id].forEach((ring, ri) => {
    // one spare row and column around, the jittered corners must not cut the outline
    for (let r = -1; r <= nRows; r++) {
      for (let c = -1; c <= cols; c++) {
        // NW, NE, SE, SW: clockwise on the lon/lat plane
        const quad = [corner(c, r), corner(c + 1, r), corner(c + 1, r + 1), corner(c, r + 1)];
        const piece = clipRing(ring, quad);
        if (piece.length < 3) continue;
        const projected = subdivide(piece).map(wander).map(albers);
        if (area(projected) < 3) continue;
        const row = rows[Math.max(r, 0) % rows.length];
        addCell(id + '-' + ri + '-' + r + '-' + c, projected, row[Math.max(c, 0) % row.length]);
      }
    }
  });
}

STATE_TABLE.forEach(s => addState(s[0], s[1], s[2], s[3], s[4]));

function crop(shape, ox, oy, scale) {
  return shape.map(p => [ox + p[0] / scale, oy + p[1] / scale]);
}
AZ_SHAPES.forEach((s, i) => addCell('AZ-' + AZ_COUNTIES[i], crop(s, 1060, 470, 2.063), AZ_DIFF[i]));
HAWAII_SHAPES.forEach((s, i) => addCell('HI-' + i, crop(s, 1490, 1120, 3), INSET_DIFF));
ALEUTIAN_SHAPES.forEach((s, i) => addCell('AK-' + i, crop(s, 1140, 1120, 3), INSET_DIFF));
WEST_ISLAND_SHAPES.forEach((s, i) => addCell('CI-' + i, crop(s, 1060, 470, 2.063), INSET_DIFF));
EAST_ISLAND_SHAPES.forEach((s, i) => addCell('EI-' + i, crop(s, 1780, 470, 2.063), INSET_DIFF));

echarts.registerMap('counties', { type: 'FeatureCollection', features });

const chart = echarts.init(document.getElementById('chart'), null, { renderer: 'canvas' });
const identity = { project: p => p, unproject: p => p };

chart.setOption({
  animation: false,
  backgroundColor: 'transparent',
  title: {
    text: 'diff', left: 2588, top: 473, padding: 0,
    textStyle: { fontFamily: 'Lato', fontSize: 23, fontWeight: 'bold', color: '#31333f' }
  },
  grid: { left: 2620, top: 510, width: 2, height: 400, containLabel: false },
  xAxis: { type: 'value', show: false },
  yAxis: {
    type: 'value', min: DIFF_MIN, max: DIFF_MAX, position: 'right',
    axisLine: { show: false }, axisTick: { show: false }, splitLine: { show: false },
    axisLabel: {
      customValues: DIFF_TICKS, margin: 2, fontFamily: 'Lato', fontSize: 22, color: '#31333f',
      formatter: v => (v < 0 ? '\u2212' : '') + Math.abs(v).toFixed(1)
    }
  },
  visualMap: {
    type: 'continuous', min: DIFF_MIN, max: DIFF_MAX, seriesIndex: 0,
    left: 2588, top: 510, itemWidth: 32, itemHeight: 400, padding: 0, text: ['', ''], textGap: 0,
    calculable: false, hoverLink: false, inRange: { color: DIFF_COLORS }
  },
  series: [{
    type: 'map', map: 'counties', projection: identity, silent: true, selectedMode: false,
    left: 0, top: 0, width: 2772, height: 1328, boundingCoords: [[0, 0], [2772, 1328]],
    showLegendSymbol: false,
    label: { show: false },
    itemStyle: { borderColor: '#000', borderWidth: 2.2, areaColor: '#b0351c' },
    emphasis: { disabled: true },
    data: cellData
  }]
});
</script>
</body>
</html>
